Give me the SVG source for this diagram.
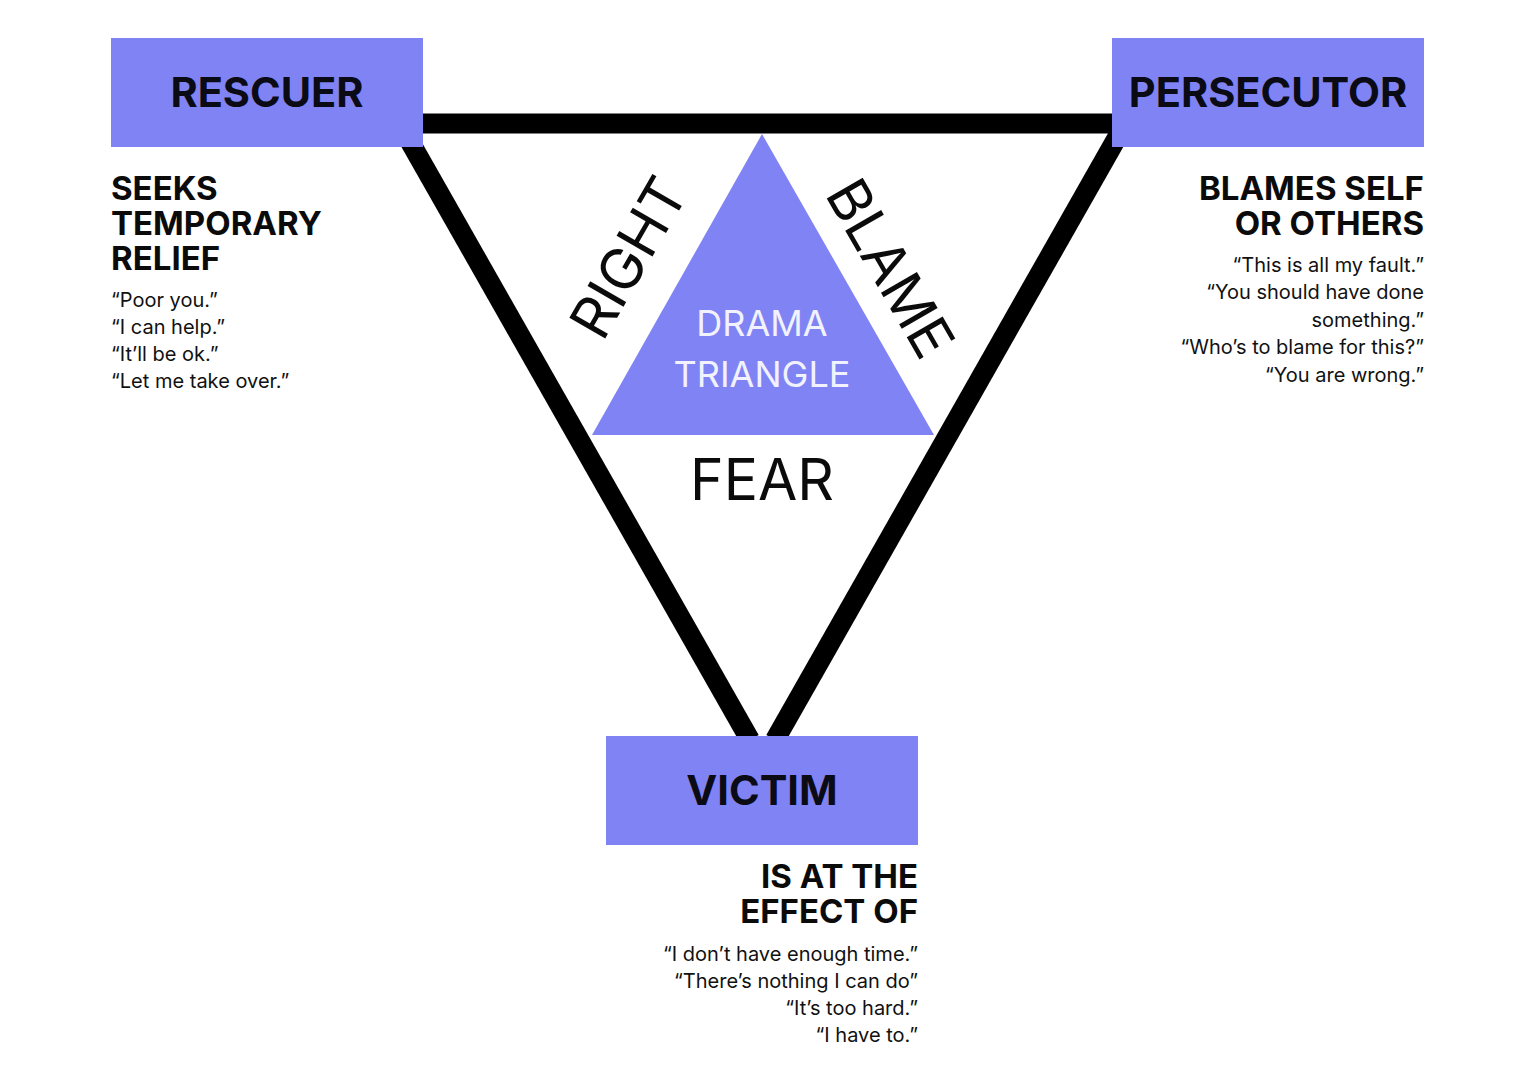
<svg xmlns="http://www.w3.org/2000/svg" width="1536" height="1086" viewBox="0 0 1536 1086">
<style>
.box{fill:#8083f4}
.lbl{font-family:Inter,"Liberation Sans",sans-serif;font-weight:700;font-size:41.5px;fill:#0b0b16;text-anchor:middle}
.hd{font-family:Inter,"Liberation Sans",sans-serif;font-weight:700;font-size:33px;fill:#0b0b0b}
.q{font-family:Inter,"Liberation Sans",sans-serif;font-weight:400;font-size:20px;fill:#111}
.big{font-family:Inter,"Liberation Sans",sans-serif;font-weight:400;font-size:57px;fill:#0b0b0b;text-anchor:middle}
.in{font-family:Inter,"Liberation Sans",sans-serif;font-weight:400;font-size:36px;fill:#f2f2ff;text-anchor:middle}
.r{text-anchor:end}
</style>
<rect width="1536" height="1086" fill="#fff"/>
<g id="connectors" stroke="#000" stroke-width="20" fill="none">
<line x1="420" y1="123.5" x2="1115" y2="123.5"/>
<line x1="409" y1="140" x2="750" y2="740"/>
<line x1="1118" y1="136" x2="775" y2="740"/>
</g>
<g id="center">
<polygon class="box" points="762,134 592,435 934,435"/>
<text class="in" x="762" y="336">DRAMA</text>
<text class="in" x="762" y="387">TRIANGLE</text>
<text class="big" transform="translate(628,257) rotate(-60)" y="21">RIGHT</text>
<text class="big" transform="translate(891,268) rotate(60)" y="21">BLAME</text>
<text class="big" x="762" y="500">FEAR</text>
</g>
<g id="rescuer">
<rect class="box" x="111" y="38" width="312" height="109"/>
<text class="lbl" x="267" y="107">RESCUER</text>
<text class="hd" x="111" y="200">SEEKS</text>
<text class="hd" x="111" y="235">TEMPORARY</text>
<text class="hd" x="111" y="270">RELIEF</text>
<text class="q" x="111" y="307">“Poor you.”</text>
<text class="q" x="111" y="334">“I can help.”</text>
<text class="q" x="111" y="361">“It’ll be ok.”</text>
<text class="q" x="111" y="388">“Let me take over.”</text>
</g>
<g id="persecutor">
<rect class="box" x="1112" y="38" width="312" height="109"/>
<text class="lbl" x="1268" y="107">PERSECUTOR</text>
<text class="hd r" x="1424" y="200">BLAMES SELF</text>
<text class="hd r" x="1424" y="235">OR OTHERS</text>
<text class="q r" x="1424" y="272">“This is all my fault.”</text>
<text class="q r" x="1424" y="299">“You should have done</text>
<text class="q r" x="1424" y="327">something.”</text>
<text class="q r" x="1424" y="354">“Who’s to blame for this?”</text>
<text class="q r" x="1424" y="382">“You are wrong.”</text>
</g>
<g id="victim">
<rect class="box" x="606" y="736" width="312" height="109"/>
<text class="lbl" x="762" y="805">VICTIM</text>
<text class="hd r" x="918" y="888">IS AT THE</text>
<text class="hd r" x="918" y="923">EFFECT OF</text>
<text class="q r" x="918" y="961">“I don’t have enough time.”</text>
<text class="q r" x="918" y="988">“There’s nothing I can do”</text>
<text class="q r" x="918" y="1015">“It’s too hard.”</text>
<text class="q r" x="918" y="1042">“I have to.”</text>
</g>
</svg>
